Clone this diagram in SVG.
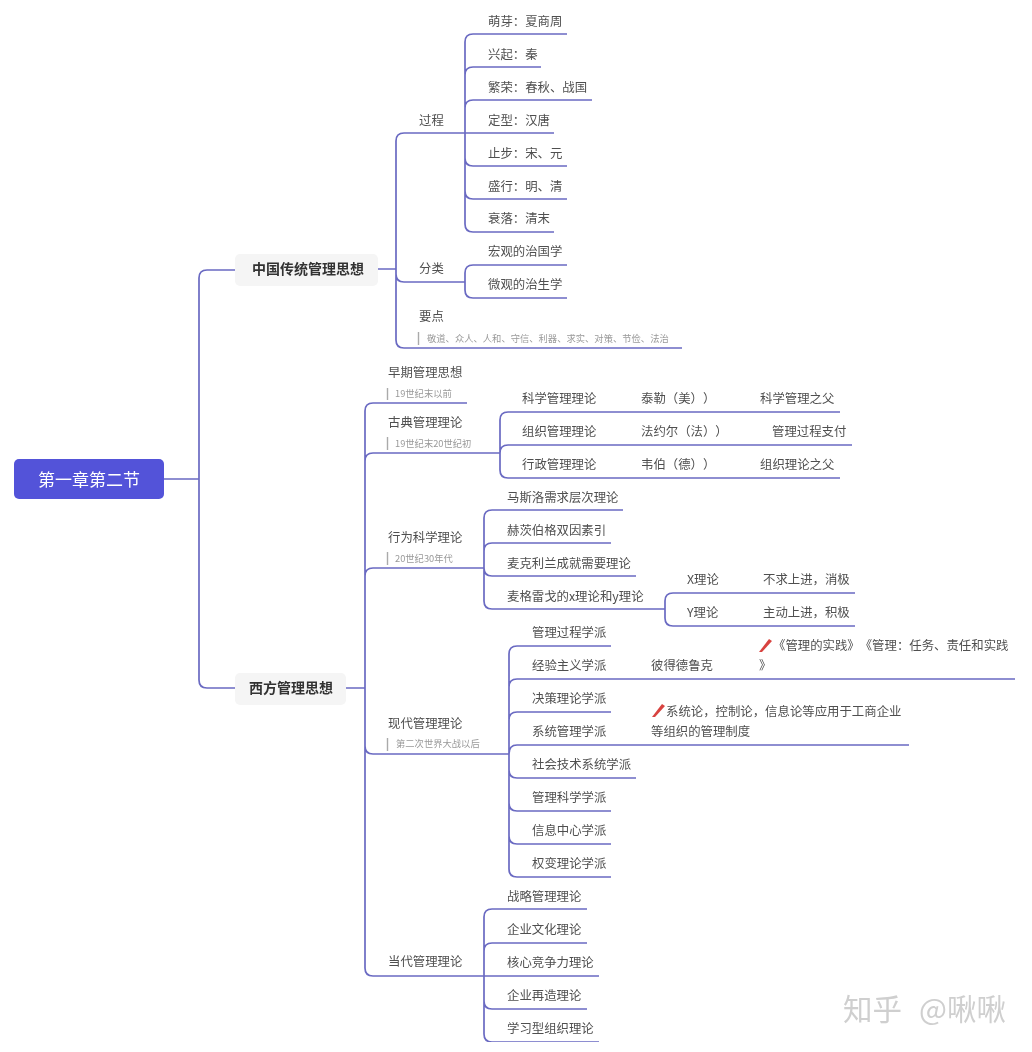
<svg xmlns="http://www.w3.org/2000/svg" width="1032" height="1052" viewBox="0 0 1032 1052">
<style>
text{font-family:"Noto Sans CJK SC","Noto Sans",sans-serif;dominant-baseline:central;text-spacing-trim:space-all}
.t{font-size:12.4px;fill:#4f4f4f}
.n{font-size:9.3px;fill:#999}
.h{font-size:14px;font-weight:700;fill:#333;text-anchor:middle}
.r{font-size:17px;fill:#fff;text-anchor:middle}
.bar{stroke:#aaa;stroke-width:1.4;fill:none}
.box{fill:#f5f5f5}
.c path{fill:none;stroke:#6a6ac2;stroke-width:1.7}
.pen{fill:#d8433f}
.wm{font-size:29.500px;fill:#cfcfcf}
</style>
<defs><filter id="soft" x="0" y="0" width="100%" height="100%"><feGaussianBlur stdDeviation="0.45"/></filter></defs>
<rect width="1032" height="1052" fill="#fff"/>
<g filter="url(#soft)">
<g id="connectors" class="c">
<path d="M164 479H199M199 479V278Q199 270 207 270H235M199 479V680Q199 688 207 688H235"/>
<path d="M378 269H396M396 269V141Q396 133 404 133H465M396 269V274Q396 282 404 282H465M396 269V340Q396 348 404 348H682"/>
<path d="M465 133V42Q465 34 473 34H567M465 133V75Q465 67 473 67H541M465 133V108Q465 100 473 100H592M465 133H554M465 133V158Q465 166 473 166H567M465 133V191Q465 199 473 199H567M465 133V224Q465 232 473 232H554"/>
<path d="M465 282V273Q465 265 473 265H567M465 282V290Q465 298 473 298H567"/>
<path d="M346 688H365M365 688V411Q365 403 373 403H467M365 688V461Q365 453 373 453H500M365 688V576Q365 568 373 568H484M365 688V746Q365 754 373 754H509M365 688V968Q365 976 373 976H484"/>
<path d="M500 453V420Q500 412 508 412H840M500 453Q500 445 508 445H852M500 453V470Q500 478 508 478H840"/>
<path d="M484 568V518Q484 510 492 510H623M484 568V551Q484 543 492 543H611M484 568Q484 576 492 576H636M484 568V601Q484 609 492 609H665"/>
<path d="M665 609V601Q665 593 673 593H855M665 609V618Q665 626 673 626H855"/>
<path d="M509 754V654Q509 646 517 646H611M509 754V687Q509 679 517 679H1015M509 754V720Q509 712 517 712H611M509 754Q509 745 517 745H909M509 754V770Q509 778 517 778H636M509 754V803Q509 811 517 811H611M509 754V836Q509 844 517 844H611M509 754V869Q509 877 517 877H611"/>
<path d="M484 976V917Q484 909 492 909H587M484 976V951Q484 943 492 943H587M484 976H599M484 976V1001Q484 1009 492 1009H587M484 976V1034Q484 1042 492 1042H599"/>
</g>
<g id="root"><rect x="14" y="459" width="150" height="40" rx="5" fill="#5252d9"/><text class="r" x="89" y="478">第一章第二节</text></g>
<g id="n-zhongguo"><rect class="box" x="235" y="254" width="143" height="32" rx="5"/><text class="h" x="308" y="268">中国传统管理思想</text></g>
<g id="n-xifang"><rect class="box" x="235" y="673" width="111" height="32" rx="5"/><text class="h" x="291" y="687">西方管理思想</text></g>
<g id="n-guocheng"><text class="t" x="419" y="120">过程</text></g>
<g id="n-gc1"><text class="t" x="488" y="21">萌芽：夏商周</text></g>
<g id="n-gc2"><text class="t" x="488" y="54">兴起：秦</text></g>
<g id="n-gc3"><text class="t" x="488" y="87">繁荣：春秋、战国</text></g>
<g id="n-gc4"><text class="t" x="488" y="120">定型：汉唐</text></g>
<g id="n-gc5"><text class="t" x="488" y="153">止步：宋、元</text></g>
<g id="n-gc6"><text class="t" x="488" y="186">盛行：明、清</text></g>
<g id="n-gc7"><text class="t" x="488" y="218">衰落：清末</text></g>
<g id="n-fenlei"><text class="t" x="419" y="268">分类</text></g>
<g id="n-fl1"><text class="t" x="488" y="251">宏观的治国学</text></g>
<g id="n-fl2"><text class="t" x="488" y="284">微观的治生学</text></g>
<g id="n-yaodian"><text class="t" x="419" y="316">要点</text><path class="bar" d="M418.500 332V345"/><text class="n" x="427" y="338">敬道、众人、人和、守信、利器、求实、对策、节俭、法治</text></g>
<g id="n-zaoqi"><text class="t" x="388" y="372">早期管理思想</text><path class="bar" d="M387.500 388V400"/><text class="n" x="395" y="393">19世纪末以前</text></g>
<g id="n-gudian"><text class="t" x="388" y="422">古典管理理论</text><path class="bar" d="M387.500 437V450"/><text class="n" x="395" y="443">19世纪末20世纪初</text></g>
<g id="n-gd1"><text class="t" x="522" y="398">科学管理理论</text><text class="t" x="641" y="398">泰勒（美））</text><text class="t" x="760" y="398">科学管理之父</text></g>
<g id="n-gd2"><text class="t" x="522" y="431">组织管理理论</text><text class="t" x="641" y="431">法约尔（法））</text><text class="t" x="772" y="431">管理过程支付</text></g>
<g id="n-gd3"><text class="t" x="522" y="464">行政管理理论</text><text class="t" x="641" y="464">韦伯（德））</text><text class="t" x="760" y="464">组织理论之父</text></g>
<g id="n-xingwei"><text class="t" x="388" y="537">行为科学理论</text><path class="bar" d="M387.500 552V565"/><text class="n" x="395" y="558">20世纪30年代</text></g>
<g id="n-xw1"><text class="t" x="507" y="497">马斯洛需求层次理论</text></g>
<g id="n-xw2"><text class="t" x="507" y="530">赫茨伯格双因素引</text></g>
<g id="n-xw3"><text class="t" x="507" y="563">麦克利兰成就需要理论</text></g>
<g id="n-xw4"><text class="t" x="507" y="596">麦格雷戈的x理论和y理论</text></g>
<g id="n-x"><text class="t" x="687" y="579">X理论</text><text class="t" x="763" y="579">不求上进，消极</text></g>
<g id="n-y"><text class="t" x="687" y="612">Y理论</text><text class="t" x="763" y="612">主动上进，积极</text></g>
<g id="n-xiandai"><text class="t" x="388" y="723">现代管理理论</text><path class="bar" d="M387.500 738V751"/><text class="n" x="396" y="743">第二次世界大战以后</text></g>
<g id="n-xd1"><text class="t" x="532" y="632">管理过程学派</text></g>
<g id="n-xd2"><text class="t" x="532" y="665">经验主义学派</text><text class="t" x="651" y="665">彼得德鲁克</text><path class="pen" d="M759 652L769 639L772 641L762 652Z"/><text class="t" x="773" y="645">《管理的实践》《管理：任务、责任和实践</text><text class="t" x="759" y="665">》</text></g>
<g id="n-xd3"><text class="t" x="532" y="698">决策理论学派</text></g>
<g id="n-xd4"><text class="t" x="532" y="731">系统管理学派</text><path class="pen" d="M652 717L662 704L665 706L655 717Z"/><text class="t" x="666" y="711">系统论，控制论，信息论等应用于工商企业</text><text class="t" x="651" y="731">等组织的管理制度</text></g>
<g id="n-xd5"><text class="t" x="532" y="764">社会技术系统学派</text></g>
<g id="n-xd6"><text class="t" x="532" y="797">管理科学学派</text></g>
<g id="n-xd7"><text class="t" x="532" y="830">信息中心学派</text></g>
<g id="n-xd8"><text class="t" x="532" y="863">权变理论学派</text></g>
<g id="n-dangdai"><text class="t" x="388" y="961">当代管理理论</text></g>
<g id="n-dd1"><text class="t" x="507" y="896">战略管理理论</text></g>
<g id="n-dd2"><text class="t" x="507" y="929">企业文化理论</text></g>
<g id="n-dd3"><text class="t" x="507" y="962">核心竞争力理论</text></g>
<g id="n-dd4"><text class="t" x="507" y="995">企业再造理论</text></g>
<g id="n-dd5"><text class="t" x="507" y="1028">学习型组织理论</text></g>
<g id="watermark"><text class="wm" x="843" y="1007">知乎</text><text class="wm" x="919" y="1007">@啾啾</text></g>
</g>
</svg>
